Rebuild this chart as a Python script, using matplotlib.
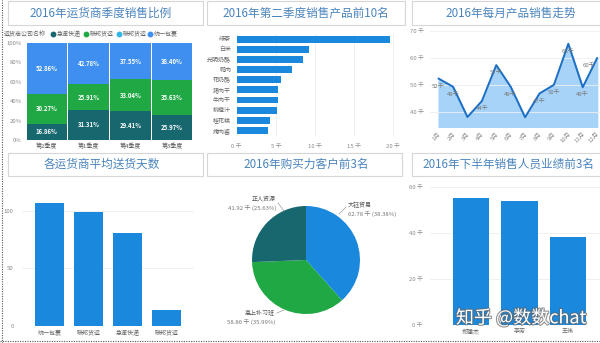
import matplotlib
matplotlib.use("Agg")
import matplotlib.pyplot as plt
import matplotlib.patheffects as pe
from matplotlib.patches import Rectangle
from matplotlib.lines import Line2D

plt.rcParams['font.family'] = ['Noto Sans CJK SC', 'DejaVu Sans']

# ---- data ----
quarters = ['第2季度', '第1季度', '第4季度', '第3季度']
jisu = [16.86, 31.31, 29.41, 25.97]
lianbang = [30.27, 25.91, 33.04, 35.63]
tongyi = [52.86, 42.78, 37.55, 38.40]
legend_names = ['急速快递', '联邦货运', '联邦货运', '统一包裹']

products = ['绿茶', '白米', '光明奶酪', '鸭肉', '花奶酪', '猪肉干', '牛肉干', '柳橙汁', '桂花糕', '烤肉酱']
prod_sales = [19.5, 9.2, 8.4, 7.1, 5.7, 5.3, 5.3, 5.2, 4.3, 4.0]

months = ['1月', '2月', '3月', '4月', '5月', '6月', '7月', '8月', '9月', '10月', '11月', '12月']
month_sales = [52.4, 49.4, 38.2, 44.1, 57.4, 49.4, 38.1, 46.9, 50.1, 65.3, 49.2, 60.0]
month_labeled = [True, True, False, True, True, True, False, True, True, True, True, True]

carriers = ['统一包裹', '联邦货运', '急速快递', '联邦货运']
ship_days = [106.4, 98.6, 80.9, 13.7]

customers = ['大钰贸易', '高上补习班', '正人资源']
cust_sales = [62.78, 58.86, 41.92]
cust_pct = [38.38, 35.99, 25.63]

staff = ['郑建杰', '李芳', '王伟']
staff_sales = [55.1, 54.1, 38.4]

# ---- colours ----
BLUE = '#1a88dc'
GREEN = '#1fa843'
TEAL = '#17676f'
CYAN = '#31b6e7'
LBLUE = '#3f8ff0'
TITLE_C = '#4a84bd'
TICK_C = '#8a8a8a'
TS = 4.3

W, H = 600, 343
fig = plt.figure(figsize=(6, 3.43), dpi=100)
fig.patch.set_facecolor('white')


def px_axes(x0, y0, x1, y1):
    return fig.add_axes([x0 / W, 1 - y1 / H, (x1 - x0) / W, (y1 - y0) / H])


def title_box(x0, y0, x1, y1, cx, text):
    fig.add_artist(Rectangle((x0 / W, 1 - y1 / H), (x1 - x0) / W, (y1 - y0) / H,
                             transform=fig.transFigure, facecolor='white',
                             edgecolor='#d6d6d6', lw=0.8))
    fig.text(cx / W, 1 - ((y0 + y1) / 2) / H, text, ha='center', va='center',
             fontsize=8.4, color=TITLE_C)


def clean(ax):
    for s in ax.spines.values():
        s.set_visible(False)
    ax.tick_params(length=0, labelsize=TS, labelcolor=TICK_C)


title_box(8, 1, 203, 25, 101, '2016年运货商季度销售比例')
title_box(207, 1, 405, 25, 306, '2016年第二季度销售产品前10名')
title_box(412, 1, 612, 25, 511, '2016年每月产品销售走势')
title_box(8, 153, 203, 176, 102, '各运货商平均送货天数')
title_box(207, 153, 402, 176, 306, '2016年购买力客户前3名')
title_box(412, 153, 612, 176, 508, '2016年下半年销售人员业绩前3名')

# ---- panel 1: stacked 100% bars ----
ax1 = px_axes(26, 43, 193, 140)
clean(ax1)
x = range(len(quarters))
bw = 0.965
ax1.bar(x, jisu, width=bw, color=TEAL)
ax1.bar(x, lianbang, width=bw, bottom=jisu, color=GREEN)
b2 = [a + b for a, b in zip(jisu, lianbang)]
ax1.bar(x, tongyi, width=bw, bottom=b2, color=LBLUE)
for i in x:
    for base, val in ((0, jisu[i]), (jisu[i], lianbang[i]), (b2[i], tongyi[i])):
        ax1.text(i, base + val / 2, f'{val:.2f}%', ha='center', va='center',
                 color='white', fontsize=4.3, fontweight='bold')
ax1.set_xlim(-0.5, len(quarters) - 0.5)
ax1.set_ylim(0, 100)
ax1.set_xticks(list(x))
ax1.set_xticklabels(quarters, color='#555555')
ax1.set_yticks([0, 20, 40, 60, 80, 100])
ax1.set_yticklabels([f'{v}%' for v in [0, 20, 40, 60, 80, 100]])
ax1.tick_params(axis='y', pad=3)
ax1.tick_params(axis='x', pad=2)

fig.text(4 / W, 1 - 34 / H, '运货商公司名称', fontsize=TS, color='#666666', va='center')
for cx, col, name in zip([53, 86, 119, 150], [TEAL, GREEN, CYAN, LBLUE], legend_names):
    fig.add_artist(Line2D([cx / W], [1 - 34 / H], marker='o', markersize=3.2,
                          color=col, transform=fig.transFigure))
    fig.text((cx + 4) / W, 1 - 34 / H, name, fontsize=TS, color='#666666', va='center')

# ---- panel 2: top 10 products ----
ax2 = px_axes(236.7, 34, 395, 135.5)
clean(ax2)
ax2.barh(range(len(products)), prod_sales, height=0.68, color=BLUE, zorder=2)
ax2.set_ylim(len(products) - 0.5, -0.5)
ax2.set_xlim(0, 20.2)
ax2.set_yticks(range(len(products)))
ax2.set_yticklabels(products, color='#666666')
ax2.set_xticks([0, 5, 10, 15, 20])
ax2.set_xticklabels([f'{v} 千' for v in [0, 5, 10, 15, 20]])
ax2.grid(axis='x', color='#ececec', lw=0.6, zorder=0)
ax2.tick_params(axis='y', pad=4)
ax2.tick_params(axis='x', pad=6)

# ---- panel 3: monthly trend ----
ax3 = px_axes(430, 30, 600, 127)
clean(ax3)
mx = range(len(months))
ax3.fill_between(mx, month_sales, 0, color='#a7d3f8', zorder=1)
ax3.plot(mx, month_sales, color='#1d6fc3', lw=1.4, zorder=3)
last = len(months) - 1
for i, v in enumerate(month_sales):
    if month_labeled[i]:
        if i == last:
            ax3.annotate(f'{round(v)}千', (i, v), xytext=(-1.5, -5.5), textcoords='offset points',
                         ha='right', va='center', fontsize=TS, color='#777777', zorder=4)
        else:
            ax3.annotate(f'{round(v)}千', (i, v), xytext=(0, -5.5), textcoords='offset points',
                         ha='center', va='center', fontsize=TS, color='#777777', zorder=4)
ax3.set_xlim(-0.6, 11.2)
ax3.set_ylim(34.5, 70.4)
ax3.set_yticks([40, 50, 60, 70])
ax3.set_yticklabels([f'{v} 千' for v in [40, 50, 60, 70]])
ax3.grid(axis='y', color='#eeeeee', lw=0.6, zorder=0)
ax3.set_xticks(list(mx))
ax3.set_xticklabels(months, rotation=45, ha='right', rotation_mode='anchor')
ax3.tick_params(axis='x', pad=3)
ax3.tick_params(axis='y', pad=4)

# ---- panel 4: avg delivery days ----
ax4 = px_axes(22, 180, 194, 325.7)
clean(ax4)
ax4.bar(range(len(carriers)), ship_days, width=0.76, color=BLUE, zorder=2)
ax4.set_xlim(-0.7, 3.7)
ax4.set_ylim(0, 126.5)
ax4.set_yticks([0, 50, 100])
ax4.grid(axis='y', color='#eeeeee', lw=0.6, zorder=0)
ax4.set_xticks(range(len(carriers)))
ax4.set_xticklabels(carriers, color='#666666')
ax4.tick_params(axis='y', pad=6)
ax4.tick_params(axis='x', pad=3)

# ---- panel 5: pie ----
R = 54.0
ax5 = px_axes(306 - 80, 260 - 80, 306 + 80, 260 + 80)
ax5.pie(cust_sales, colors=[BLUE, GREEN, TEAL], startangle=90, counterclock=False,
        radius=1, wedgeprops=dict(linewidth=0))
ax5.set_xlim(-80 / R, 80 / R)
ax5.set_ylim(-80 / R, 80 / R)
ax5.set_aspect('equal')
ax5.axis('off')


def d(px, py):
    return ((px - 306) / R, (260 - py) / R)


pie_labels = [
    (customers[0], 348, 205, 'left', (339, 214), (346, 207)),
    (customers[1], 275, 313, 'right', (284, 310), (277, 313)),
    (customers[2], 276, 199, 'right', (284, 211), (278, 203)),
]
for k, (name, lx, ly, ha, p0, p1) in enumerate(pie_labels):
    ax5.text(*d(lx, ly), name, ha=ha, va='center', fontsize=TS, color='#555555')
    ax5.text(*d(lx, ly + 8.5), f'{cust_sales[k]:.2f} 千 ({cust_pct[k]:.2f}%)', ha=ha,
             va='center', fontsize=TS, color='#777777')
    a, b = d(*p0), d(*p1)
    ax5.plot([a[0], b[0]], [a[1], b[1]], color='#999999', lw=0.5)

# ---- panel 6: top 3 sales staff ----
ax6 = px_axes(430, 187, 600, 325)
clean(ax6)
ax6.bar(range(len(staff)), staff_sales, width=0.75, color=BLUE, zorder=2)
ax6.set_xlim(-0.85, 2.66)
ax6.set_ylim(0, 60)
ax6.set_yticks([0, 20, 40, 60])
ax6.set_yticklabels([f'{v} 千' for v in [0, 20, 40, 60]])
ax6.grid(axis='y', color='#eeeeee', lw=0.6, zorder=0)
ax6.set_xticks(range(len(staff)))
ax6.set_xticklabels(staff, color='#666666')
ax6.tick_params(axis='y', pad=5)
ax6.tick_params(axis='x', pad=3)

# ---- frame lines and watermark ----
fig.add_artist(Line2D([1.5 / W, 1.5 / W], [0, 1], color='#555555', lw=0.8,
                      linestyle=(0, (1, 1.2)), transform=fig.transFigure))
fig.add_artist(Line2D([0, 1], [1 - 340.5 / H, 1 - 340.5 / H], color='#555555', lw=0.8,
                      linestyle=(0, (1, 1.2)), transform=fig.transFigure))
fig.text(521 / W, 1 - 318 / H, '知乎 @数数chat', ha='center', va='center', fontsize=13,
         color='white',
         path_effects=[pe.withStroke(linewidth=1.6, foreground='#666666', alpha=0.7)])

fig.savefig('out.png', dpi=100)
